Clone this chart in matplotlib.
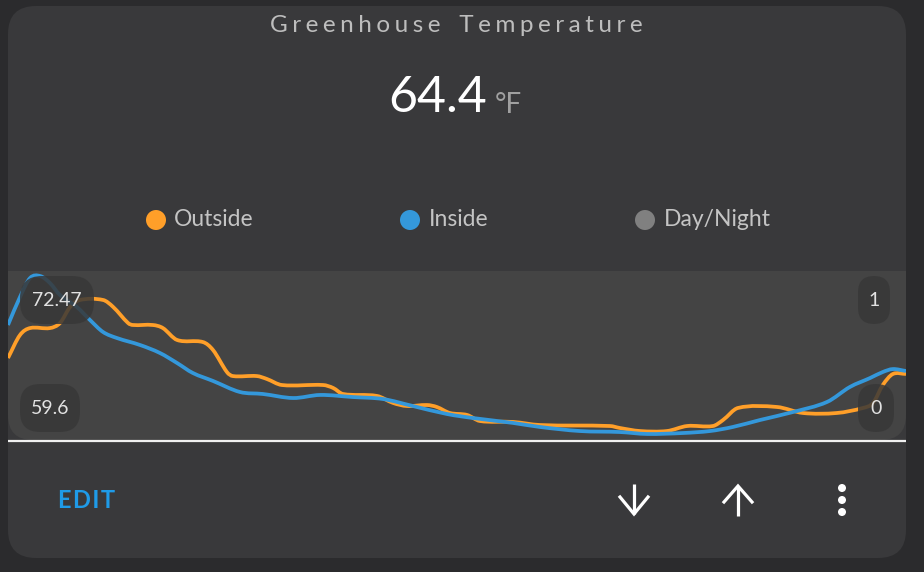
import matplotlib
matplotlib.use('Agg')
import matplotlib.pyplot as plt
from matplotlib.patches import FancyBboxPatch, PathPatch, Circle
from matplotlib.path import Path
import numpy as np

plt.rcParams['font.family'] = ['Lato', 'DejaVu Sans']

hours_outside = [0, .32, .59, 1.12, 1.39, 1.66, 1.92, 2.54, 2.81, 3.21, 3.34, 3.87, 4.14, 4.52, 5.21, 5.48, 5.85,
                 6.01, 6.65, 6.92, 7.32, 8.42, 8.69, 8.95, 9.86, 10.29, 10.66, 11.2, 11.46, 11.81, 12.27, 12.61,
                 13.5, 14.22, 16.09, 16.35, 16.89, 17.61, 18.15, 18.84, 19.11, 19.51, 20.55, 21.25, 22.15, 22.85,
                 23.12, 23.38, 23.65, 24]
temp_outside = [65.79, 67.66, 68.23, 68.23, 68.64, 69.95, 70.52, 70.52, 69.95, 68.64,
                68.48, 68.48, 68.23, 67.26, 67.09, 66.44, 64.65, 64.32, 64.32, 64.08,
                63.59, 63.59, 63.35, 62.86, 62.70, 62.13, 61.88, 61.96, 61.80, 61.31,
                61.15, 60.66, 60.58, 60.33, 60.25, 60.09, 59.84, 59.84, 60.25, 60.25,
                60.74, 61.72, 61.80, 61.31, 61.31, 61.72, 62.13, 63.59, 64.49, 64.49]
hours_inside = [0, .32, .59, .86, 1.12, 1.39, 1.84, 2.19, 2.54, 2.91, 3.53, 4.06, 4.52, 4.94, 5.48, 6.2, 6.81,
                7.62, 8.34, 9.22, 10.02, 10.82, 11.73, 12.43, 13.5, 14.22, 15.29, 16.35, 17.08, 18.04, 18.76,
                19.37, 20.1, 20.98, 21.89, 22.5, 23.04, 23.38, 23.65, 24]
temp_inside = [68.48, 70.76, 72.31, 72.47, 71.9, 70.92, 69.95, 68.89, 67.91, 67.42,
               66.85, 66.2, 65.38, 64.57, 63.92, 63.02, 62.86, 62.53, 62.78, 62.61,
               62.45, 61.88, 61.23, 60.9, 60.5, 60.17, 59.84, 59.76, 59.6, 59.68,
               59.84, 60.17, 60.74, 61.39, 62.21, 63.43, 64.16, 64.65, 64.89, 64.73]
legend_names = ['Outside', 'Inside', 'Day/Night']
legend_colors = ['#ff9f29', '#3498db', '#808080']
title = 'Greenhouse Temperature'
current_value = '64.4'
unit = '°F'
axis_labels = ['72.47', '59.6', '1', '0']

PAGE = '#2b2b2d'
CARD = '#39393b'
PANEL = '#444444'
W, H = 924, 572


def smooth_path(x, y):
    # catmull-rom through the read points, as the card draws a spline
    x, y = np.asarray(x, float), np.asarray(y, float)
    verts = [(x[0], y[0])]
    codes = [Path.MOVETO]
    for i in range(len(x) - 1):
        i0, i3 = max(i - 1, 0), min(i + 2, len(x) - 1)
        dx = x[i + 1] - x[i]
        m1 = (y[i + 1] - y[i0]) / (x[i + 1] - x[i0])
        m2 = (y[i3] - y[i]) / (x[i3] - x[i])
        verts += [(x[i] + dx / 3, y[i] + m1 * dx / 3), (x[i + 1] - dx / 3, y[i + 1] - m2 * dx / 3), (x[i + 1], y[i + 1])]
        codes += [Path.CURVE4] * 3
    return Path(verts, codes)


fig = plt.figure(figsize=(W / 100, H / 100), dpi=100, facecolor=PAGE)

# everything but the curves is laid out in pixels
bg = fig.add_axes([0, 0, 1, 1])
bg.set_xlim(0, W)
bg.set_ylim(H, 0)
bg.axis('off')
bg.add_patch(FancyBboxPatch((8, 6), 898, 552, boxstyle='round,pad=0,rounding_size=28', fc=CARD, ec='none'))
bg.add_patch(FancyBboxPatch((8, 271), 898, 169, boxstyle='round,pad=0,rounding_size=25', fc=PANEL, ec='none'))
bg.fill_between([8, 906], 271, 400, color=PANEL, lw=0)

# thin spaces stand in for the css letter spacing
spaced_title = '\u2009\u200a'.join(title).replace('\u2009\u200a \u2009\u200a', '   ')
bg.text(456, 26, spaced_title, color='#bdbdbd', fontsize=17.5, ha='center', va='center')
bg.text(438, 98, current_value, color='white', fontsize=36, ha='center', va='center')
bg.text(495, 105, unit, color='#a0a0a0', fontsize=20, ha='left', va='center')

for name, color, cx, tx in zip(legend_names, legend_colors, [156, 410, 645], [174, 429, 664]):
    bg.add_patch(Circle((cx, 220), 10, fc=color, ec='none'))
    bg.text(tx, 219, name, color='#c4c4c4', fontsize=16.5, ha='left', va='center')

ax = fig.add_axes([8 / W, (H - 440) / H, 898 / W, 169 / H])
ax.patch.set_visible(False)
ax.set_xlim(0, 24)
ax.set_ylim(59.11, 72.88)
ax.axis('off')
ax.add_patch(PathPatch(smooth_path(hours_outside, temp_outside), fc='none', ec=legend_colors[0], lw=2.7, capstyle='butt'))
ax.add_patch(PathPatch(smooth_path(hours_inside, temp_inside), fc='none', ec=legend_colors[1], lw=2.7, capstyle='butt'))

top = fig.add_axes([0, 0, 1, 1])
top.patch.set_visible(False)
top.set_xlim(0, W)
top.set_ylim(H, 0)
top.axis('off')
top.plot([8, 906], [440.5, 440.5], color='#f0f0f0', lw=1.6, solid_capstyle='butt')

pills = [(20, 276, 74, 48, 22), (20, 384, 60, 48, 20), (858, 276, 32, 48, 16), (858, 384, 36, 48, 18)]
for (px, py, pw, ph, r), label in zip(pills, axis_labels):
    top.add_patch(FancyBboxPatch((px, py), pw, ph, boxstyle=f'round,pad=0,rounding_size={r}', fc='#383838', ec='none', alpha=0.85))
    top.text(px + pw / 2, py + ph / 2 + 1, label, color='#e2e2e2', fontsize=14, ha='center', va='center')

top.text(58, 501, 'E\u200aD\u200aI\u200aT', color='#1f9be8', fontsize=17, fontweight='bold', ha='left', va='center')

# action icons
top.plot([634, 634], [484, 514], color='white', lw=2.3, solid_capstyle='butt')
top.plot([620, 634, 648], [497, 514, 497], color='white', lw=2.3, solid_joinstyle='miter')
top.plot([738, 738], [487, 516], color='white', lw=2.3, solid_capstyle='butt')
top.plot([724, 738, 752], [502, 486, 502], color='white', lw=2.3, solid_joinstyle='miter')
for cy in [488, 500, 512]:
    top.add_patch(Circle((842, cy), 4, fc='white', ec='none'))

fig.savefig('out.png', dpi=100, facecolor=PAGE)
